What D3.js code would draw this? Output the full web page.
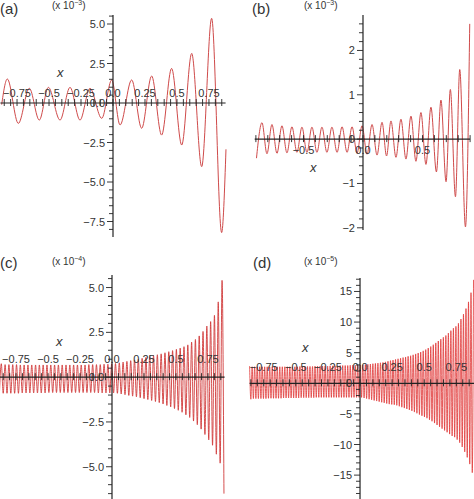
<!DOCTYPE html>
<html><head><meta charset="utf-8">
<script src="https://cdn.jsdelivr.net/npm/d3@7/dist/d3.min.js"></script>
<style>body{margin:0;background:#fff}text{font-family:"Liberation Sans",Arial,sans-serif;fill:#333}</style>
</head><body><svg id="c" width="474" height="499"></svg>
<script>
// Panel (a): extrema (x, y in units of 1e-3)
const aX=[-0.87,-0.826,-0.74,-0.654,-0.576,-0.505,-0.414,-0.336,-0.258,-0.18,-0.088,-0.01,0.055,0.146,0.224,0.302,0.38,0.458,0.537,0.615,0.693,0.771,0.849,0.883];
const aY=[-0.1,1.52,-1.29,0.93,-1.08,0.99,-1.08,0.99,-1.08,0.93,-0.97,1.46,-1.39,1.46,-1.6,1.71,-2.03,2.19,-2.66,3.14,-4.03,5.36,-8.2,-2.93];
// Panel (b): extrema (units 1e-3)
const bMaxX=[-0.849,-0.765,-0.681,-0.597,-0.513,-0.429,-0.345,-0.261,-0.176,-0.092,-0.008,0.076,0.16,0.235,0.319,0.403,0.487,0.571,0.655,0.734,0.813,0.897];
const bMaxY=[0.37,0.33,0.3,0.28,0.27,0.27,0.27,0.27,0.28,0.28,0.3,0.33,0.38,0.41,0.45,0.52,0.6,0.72,0.88,1.12,1.57,2.6];
const bMinX=[-0.895,-0.807,-0.723,-0.639,-0.555,-0.471,-0.387,-0.303,-0.218,-0.134,-0.05,0.034,0.118,0.198,0.277,0.361,0.445,0.529,0.617,0.698,0.777,0.861];
const bMinY=[-0.43,-0.33,-0.32,-0.31,-0.3,-0.3,-0.3,-0.3,-0.3,-0.3,-0.32,-0.34,-0.36,-0.38,-0.41,-0.45,-0.5,-0.57,-0.74,-0.96,-1.3,-1.98];
// Panel (c): per-cycle minima / maxima (units 1e-4), cycles from x=-0.88 to 0.88
const cRange=[-0.88,0.875];
const cMin=[-0.92,-0.9,-0.9,-0.9,-0.9,-0.9,-0.88,-0.88,-0.88,-0.88,-0.88,-0.88,-0.88,-0.86,-0.86,-0.86,-0.86,-0.86,-0.86,-0.86,-0.86,-0.86,-0.86,-0.86,-0.86,-0.86,-0.88,-0.88,-0.88,-0.88,
 -0.88,-0.9,-0.94,-0.98,-1.02,-1.06,-1.1,-1.15,-1.2,-1.25,-1.3,-1.36,-1.42,-1.5,-1.58,-1.66,-1.75,-1.85,-1.96,-2.1,-2.25,-2.45,-2.65,-2.9,-3.2,-3.5,-3.8,-4.3,-4.8,-6.5];
const cMax=[0.75,0.7,0.7,0.7,0.7,0.68,0.68,0.68,0.68,0.68,0.68,0.68,0.68,0.68,0.68,0.68,0.68,0.68,0.68,0.68,0.68,0.68,0.68,0.7,0.7,0.7,0.7,0.72,0.72,0.74,
 0.76,0.8,0.84,0.88,0.92,0.96,1.0,1.05,1.1,1.15,1.2,1.25,1.3,1.36,1.42,1.48,1.55,1.62,1.7,1.8,1.95,2.1,2.3,2.55,2.85,3.1,3.45,4.2,5.4,4.7];
// Panel (d): per-cycle maxima / minima (units 1e-5), cycles from x=-0.86 to 0.884
const dRange=[-0.86,0.884];
const dMax=[2.8,2.7,2.7,2.7,2.7,2.7,2.7,2.7,2.7,2.7,2.7,2.7,2.7,2.7,2.7,2.7,2.7,2.7,2.7,2.7,2.75,2.75,2.75,2.75,2.75,2.75,2.8,2.8,2.8,2.8,2.8,2.8,2.85,2.85,2.85,2.85,2.9,2.9,2.9,2.9,2.95,2.95,2.95,3.0,3.0,
 3.0,3.05,3.1,3.15,3.2,3.25,3.3,3.35,3.4,3.5,3.6,3.7,3.8,3.9,4.0,4.1,4.2,4.3,4.4,4.5,4.65,4.8,4.95,5.1,5.3,5.5,5.75,6.0,6.3,6.6,6.9,7.2,7.5,7.8,8.2,8.6,9.0,9.3,9.8,10.5,11.3,12.2,13.3,14.8,16.9];
const dMin=[-2.6,-2.5,-2.5,-2.5,-2.5,-2.5,-2.5,-2.45,-2.45,-2.45,-2.45,-2.45,-2.45,-2.4,-2.4,-2.4,-2.4,-2.4,-2.4,-2.4,-2.35,-2.35,-2.35,-2.35,-2.35,-2.35,-2.3,-2.3,-2.3,-2.3,-2.3,-2.3,-2.3,-2.3,-2.3,-2.3,-2.3,-2.3,-2.3,-2.3,-2.3,-2.3,-2.3,-2.3,-2.3,
 -2.4,-2.5,-2.6,-2.7,-2.8,-2.9,-3.0,-3.1,-3.2,-3.3,-3.4,-3.45,-3.5,-3.6,-3.75,-3.9,-4.05,-4.2,-4.35,-4.5,-4.7,-4.9,-5.1,-5.3,-5.5,-5.7,-5.95,-6.2,-6.5,-6.8,-7.1,-7.4,-7.7,-8.0,-8.3,-8.6,-8.8,-9.2,-9.7,-10.4,-11.2,-12.1,-13.2,-14.6,-16.3];

const svg=d3.select("#c");
function cycPts(range,first,second){
  const n=first.length, step=(range[1]-range[0])/(n-1), pts=[];
  first.forEach((v,i)=>{pts.push([range[0]+i*step,v]);pts.push([range[0]+(i+0.5)*step,second[i]]);});
  return pts.filter(p=>p[0]<=range[1]+1e-9);
}
function zip(xs,ys){return xs.map((x,i)=>[x,ys[i]]);}

function panel(o){
  const x=d3.scaleLinear().domain(o.xd).range(o.xr);
  const y=d3.scaleLinear().domain(o.yd).range(o.yr);
  const g=svg.append("g");
  // curve
  g.append("path").datum(o.pts).attr("fill","none").attr("stroke",o.color).attr("stroke-width",o.sw)
   .attr("d",d3.line().x(d=>x(d[0])).y(d=>y(d[1])).curve(d3.curveMonotoneX));
  // x axis
  const x0=y(0), y0=x(0);
  g.append("line").attr("x1",o.xr[0]).attr("x2",o.xr[1]).attr("y1",x0).attr("y2",x0).attr("stroke","#222").attr("stroke-width",1.2);
  d3.range(Math.ceil(o.xd[0]/o.xMinor),Math.floor(o.xd[1]/o.xMinor)+1).forEach(k=>{
    const v=k*o.xMinor;
    g.append("line").attr("x1",x(v)).attr("x2",x(v)).attr("y1",x0-4).attr("y2",x0+3).attr("stroke","#222").attr("stroke-width",0.9);
  });
  o.xTicks.forEach((v,i)=>{
    g.append("text").attr("x",x(v)).attr("y",x0+o.xLabDy).attr("text-anchor","middle").attr("font-size",11).text(o.xLabels[i]);
  });
  // y axis
  g.append("line").attr("x1",y0).attr("x2",y0).attr("y1",o.yr[0]).attr("y2",o.yr[1]).attr("stroke","#222").attr("stroke-width",1.2);
  d3.range(Math.ceil(o.yd[0]/o.yMinor),Math.floor(o.yd[1]/o.yMinor)+1).forEach(k=>{
    const v=k*o.yMinor, major=o.yTicks.some(t=>Math.abs(t-v)<1e-9);
    g.append("line").attr("x1",y0-(major?6:4)).attr("x2",y0).attr("y1",y(v)).attr("y2",y(v)).attr("stroke","#222").attr("stroke-width",0.9);
  });
  o.yTicks.forEach((v,i)=>{
    g.append("text").attr("x",y0-8).attr("y",y(v)+4).attr("text-anchor","end").attr("font-size",11).text(o.yLabels[i]);
  });
  g.append("text").attr("x",o.xl[0]).attr("y",o.xl[1]).attr("font-size",13).attr("font-style","italic").text("x");
  const t=g.append("text").attr("x",o.sc[0]).attr("y",o.sc[1]).attr("font-size",10);
  t.append("tspan").text("(x 10");
  t.append("tspan").attr("dy",-4).attr("font-size",7).text(o.exp);
  t.append("tspan").attr("dy",4).text(")");
  g.append("text").attr("x",o.lab[0]).attr("y",o.lab[1]).attr("font-size",15).text(o.name);
}
const lab4=["−0.75","−0.5","−0.25","0.0","0.25","0.5","0.75"], tk4=[-0.75,-0.5,-0.25,0,0.25,0.5,0.75];
panel({name:"(a)",lab:[0,14],sc:[52,9],exp:"−3",xl:[57,77],pts:zip(aX,aY),color:"#cf4a4a",sw:1,
  xd:[-0.88,0.88],xr:[0.4,225.6],yd:[-8.48,5.57],yr:[237,15],xMinor:0.05,yMinor:0.5,
  xTicks:tk4,xLabels:lab4,xLabDy:-6,yTicks:[5,2.5,0,-2.5,-5,-7.5],yLabels:["5.0","2.5","0.0","−2.5","−5.0","−7.5"]});
const bPts=[]; bMinX.forEach((v,i)=>{bPts.push([v,bMinY[i]]); bPts.push([bMaxX[i],bMaxY[i]]);});
panel({name:"(b)",lab:[252,14],sc:[304,9],exp:"−3",xl:[310,172],pts:bPts,color:"#cf4a4a",sw:1,
  xd:[-0.91,0.9],xr:[254.7,470.1],yd:[-2.05,2.8],yr:[230,15],xMinor:0.1,yMinor:0.2,
  xTicks:[-0.5,0,0.5],xLabels:["−0.5","0.0","0.5"],xLabDy:15,yTicks:[2,1,0,-1,-2],yLabels:["2","1","0","−1","−2"]});
panel({name:"(c)",lab:[0,268],sc:[52,265],exp:"−4",xl:[56,346],pts:cycPts(cRange,cMin,cMax),color:"#d03a3a",sw:0.9,
  xd:[-0.88,0.88],xr:[-0.6,224.6],yd:[-6.8,5.7],yr:[499,275],xMinor:0.05,yMinor:0.5,
  xTicks:tk4,xLabels:lab4,xLabDy:-14,yTicks:[5,2.5,0,-2.5,-5],yLabels:["5.0","2.5","0.0","−2.5","−5.0"]});
panel({name:"(d)",lab:[253,268],sc:[304,265],exp:"−5",xl:[302,352],pts:cycPts(dRange,dMax,dMin),color:"#e03535",sw:0.8,
  xd:[-0.86,0.89],xr:[249.6,474.3],yd:[-18.9,17.2],yr:[499,278],xMinor:0.05,yMinor:1,
  xTicks:tk4,xLabels:lab4,xLabDy:-12,yTicks:[15,10,5,0,-5,-10,-15],yLabels:["15","10","5","0","−5","−10","−15"]});
</script></body></html>
